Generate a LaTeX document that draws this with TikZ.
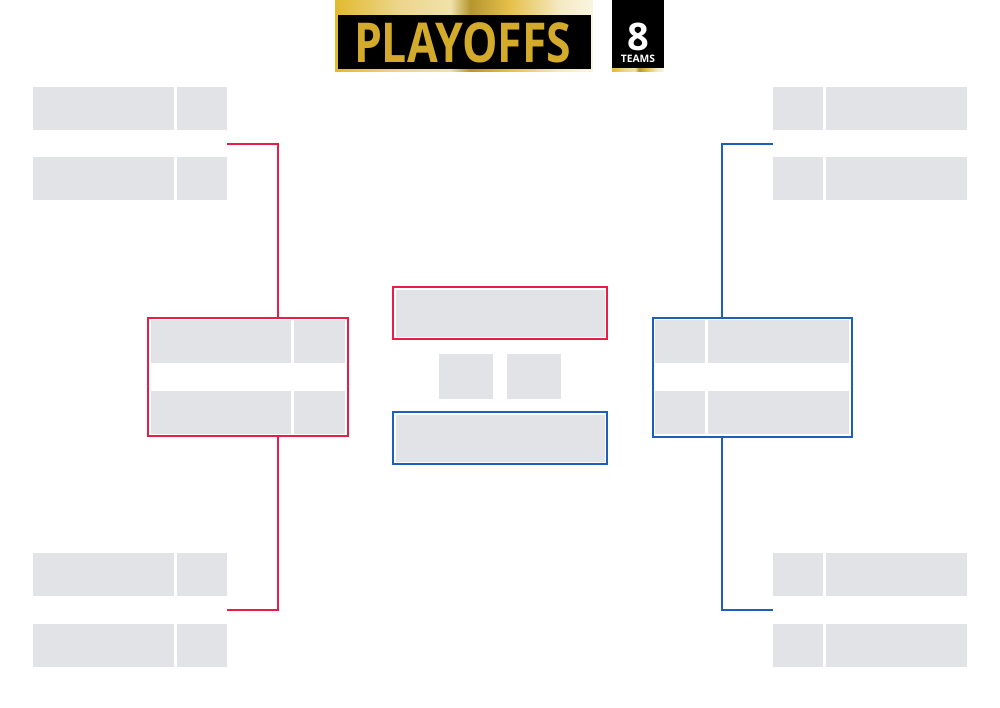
\documentclass[tikz,border=0pt]{standalone}
\usepackage{fontspec}
\newfontfamily\headfont{Open Sans}
\usetikzlibrary{positioning,calc}
\definecolor{slotgray}{RGB}{226,227,230}
\definecolor{westred}{RGB}{232,30,72}
\definecolor{eastblue}{RGB}{28,96,186}
\definecolor{titlegold}{RGB}{212,170,42}
\definecolor{goldA}{RGB}{226,186,46}
\definecolor{goldB}{RGB}{236,214,140}
\definecolor{goldC}{RGB}{240,226,170}
\definecolor{goldD}{RGB}{180,150,46}
\definecolor{goldE}{RGB}{230,192,74}
\definecolor{goldF}{RGB}{244,234,196}
\definecolor{goldG}{RGB}{250,245,224}
\pgfdeclarehorizontalshading{goldbar}{100bp}{color(0bp)=(goldA); color(25bp)=(goldA);
	color(37.6bp)=(goldB); color(47.3bp)=(goldC); color(51.2bp)=(goldD); color(58.9bp)=(goldE);
	color(68.6bp)=(goldF); color(75bp)=(goldG); color(100bp)=(goldG)}
\tikzstyle{slot}=[
	rectangle,
	fill=slotgray,
	inner sep=0pt,
	outer sep=0pt,
	minimum height=43pt
]
\tikzstyle{team}=[slot, minimum width=141pt]
\tikzstyle{score}=[slot, minimum width=50pt]
\tikzstyle{frame}=[
	rectangle,
	line width=2pt,
	fill=white,
	inner sep=0pt,
	outer sep=0pt
]
\tikzstyle{redlink}=[draw=westred, line width=2pt]
\tikzstyle{bluelink}=[draw=eastblue, line width=2pt]

\begin{document}
\begin{tikzpicture}[x=1pt,y=-1pt]
\useasboundingbox (0,0) rectangle (1000,707);
% header
\shade [shading=goldbar] (335,0) rectangle (593,71);
\node [fill=black, inner sep=0pt, outer sep=0pt, minimum width=253pt, minimum height=53.5pt, anchor=north west] (TitleBar) at (337.5,15) {};
\node [anchor=base, text=titlegold, font={\headfont\bfseries\fontsize{55}{60}\selectfont}] (Title) at (462.5,62) {\scalebox{0.81}[1]{PLAYOFFS}};
\node [fill=black, inner sep=0pt, outer sep=0pt, minimum width=51.5pt, minimum height=68pt, anchor=north west] (CountBox) at (612,0) {};
\shade [shading=goldbar] (612,68) rectangle (663.5,71);
\node [anchor=base, inner sep=0pt, text height=27pt, text depth=0pt, text=white, font={\headfont\bfseries\fontsize{38}{40}\selectfont}] (Eight) at (638,50) {8};
\node [anchor=base, inner sep=0pt, text height=7.4pt, text depth=0pt, text=white, font={\headfont\bfseries\fontsize{10.3}{12}\selectfont}] (Teams) at (638,62.3) {TEAMS};

% west quarter finals
\node [team, anchor=north west] (WestTeamA) at (33,87) {};
\node [score, right=3pt of WestTeamA] (WestScoreA) {};
\node [team, anchor=north west] (WestTeamB) at (33,157) {};
\node [score, right=3pt of WestTeamB] (WestScoreB) {};
\node [team, anchor=north west] (WestTeamC) at (33,553) {};
\node [score, right=3pt of WestTeamC] (WestScoreC) {};
\node [team, anchor=north west] (WestTeamD) at (33,624) {};
\node [score, right=3pt of WestTeamD] (WestScoreD) {};

% east quarter finals
\node [score, anchor=north west] (EastScoreA) at (773,87) {};
\node [team, right=3pt of EastScoreA] (EastTeamA) {};
\node [score, anchor=north west] (EastScoreB) at (773,157) {};
\node [team, right=3pt of EastScoreB] (EastTeamB) {};
\node [score, anchor=north west] (EastScoreC) at (773,553) {};
\node [team, right=3pt of EastScoreC] (EastTeamC) {};
\node [score, anchor=north west] (EastScoreD) at (773,624) {};
\node [team, right=3pt of EastScoreD] (EastTeamD) {};

% semi finals
\node [frame, draw=westred, minimum width=200pt, minimum height=118.5pt, anchor=north west] (WestSemi) at (147.5,317.5) {};
\node [team, minimum width=140pt, anchor=north west] (WestSemiTeamA) at (151,320) {};
\node [score, minimum width=51pt, right=3pt of WestSemiTeamA] (WestSemiScoreA) {};
\node [team, minimum width=140pt, anchor=north west] (WestSemiTeamB) at (151,390.5) {};
\node [score, minimum width=51pt, right=3pt of WestSemiTeamB] (WestSemiScoreB) {};

\node [frame, draw=eastblue, minimum width=199pt, minimum height=119pt, anchor=north west] (EastSemi) at (652.5,317.5) {};
\node [score, anchor=north west] (EastSemiScoreA) at (655,320) {};
\node [team, right=3pt of EastSemiScoreA] (EastSemiTeamA) {};
\node [score, anchor=north west] (EastSemiScoreB) at (655,390.5) {};
\node [team, right=3pt of EastSemiScoreB] (EastSemiTeamB) {};

% final
\node [frame, draw=westred, minimum width=214pt, minimum height=52pt, anchor=north west] (WestFinal) at (393,287) {};
\node [slot, minimum width=209pt, minimum height=47pt] (WestFinalTeam) at (WestFinal.center) {};
\node [frame, draw=eastblue, minimum width=214pt, minimum height=52pt, anchor=north west] (EastFinal) at (393,412) {};
\node [slot, minimum width=209pt, minimum height=47pt] (EastFinalTeam) at (EastFinal.center) {};
\node [slot, minimum width=54.5pt, minimum height=45pt, anchor=north west] (FinalScoreW) at (438.5,354) {};
\node [slot, minimum width=54pt, minimum height=45pt, anchor=north west] (FinalScoreE) at (507,354) {};

% connectors
\coordinate (WestTopJoin) at ($(WestScoreA.south east)!0.5!(WestScoreB.north east)$);
\coordinate (WestBottomJoin) at ($(WestScoreC.south east)!0.5!(WestScoreD.north east)$);
\coordinate (EastTopJoin) at ($(EastScoreA.south west)!0.5!(EastScoreB.north west)$);
\coordinate (EastBottomJoin) at ($(EastScoreC.south west)!0.5!(EastScoreD.north west)$);
\draw [redlink] (WestTopJoin) -| ([xshift=30pt]WestSemi.north);
\draw [redlink] (WestBottomJoin) -| ([xshift=30pt]WestSemi.south);
\draw [bluelink] (EastTopJoin) -| ([xshift=-30pt]EastSemi.north);
\draw [bluelink] (EastBottomJoin) -| ([xshift=-30pt]EastSemi.south);
\end{tikzpicture}
\end{document}
